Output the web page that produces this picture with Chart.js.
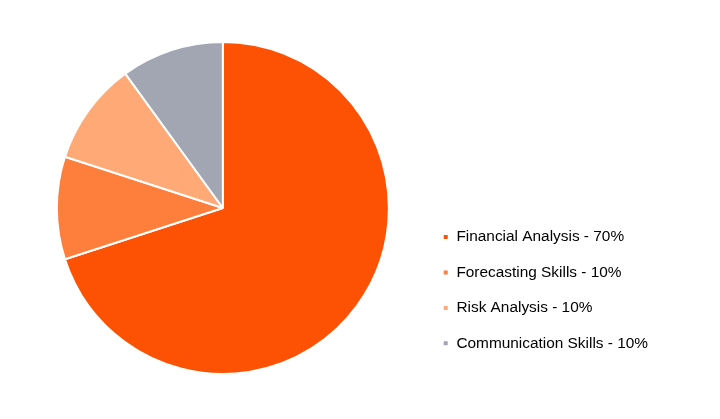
<!DOCTYPE html>
<html>
<head>
<meta charset="utf-8">
<script src="https://cdn.jsdelivr.net/npm/chart.js@4"></script>
<style>
  html, body { margin: 0; padding: 0; background: #fff; }
  #wrap { width: 720px; height: 419px; }
</style>
</head>
<body>
<div id="wrap"><canvas id="skills-chart"></canvas></div>
<script>
var categories = ['Financial Analysis', 'Forecasting Skills', 'Risk Analysis', 'Communication Skills'];
var shares = [70, 10, 10, 10];
var sliceColors = ['#fd5104', '#fe7e3c', '#ffaa76', '#a1a6b2'];

var labels = categories.map(function(c, i) { return c + ' - ' + shares[i] + '%'; });

var ctx = document.getElementById('skills-chart').getContext('2d');
new Chart(ctx, {
    type: 'pie',
    data: {
        labels: labels,
        datasets: [{
            data: shares,
            backgroundColor: sliceColors,
            borderColor: '#ffffff',
            borderWidth: 2
        }]
    },
    options: {
        responsive: true,
        maintainAspectRatio: false,
        animation: false,
        layout: {
            padding: { left: 23, top: 41, bottom: 44, right: 62 }
        },
        plugins: {
            tooltip: { enabled: false },
            legend: {
                position: 'right',
                align: 'center',
                title: {
                    display: true,
                    text: '',
                    padding: { top: 150, bottom: 0 }
                },
                labels: {
                    boxWidth: 6,
                    boxHeight: 6,
                    padding: 20,
                    color: '#000000',
                    font: { family: 'Liberation Sans', size: 15.4 }
                }
            }
        }
    }
});
</script>
</body>
</html>
